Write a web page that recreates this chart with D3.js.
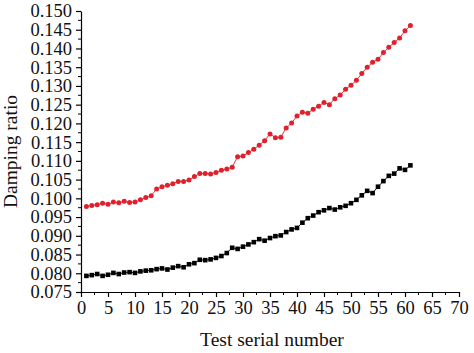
<!DOCTYPE html>
<html><head><meta charset="utf-8">
<script src="https://cdn.jsdelivr.net/npm/d3@7"></script>
<style>body{margin:0;background:#fff}svg{display:block}</style>
</head><body>
<script>
const testNumbers = d3.range(1, 62);
const redSeries = [0.0978,0.0981,0.0983,0.0987,0.0984,0.0990,0.0988,0.0992,0.0989,0.0990,
0.0996,0.1002,0.1007,0.1025,0.1031,0.1035,0.1039,0.1045,0.1045,0.1049,
0.1058,0.1066,0.1066,0.1065,0.1069,0.1075,0.1078,0.1083,0.1111,0.1113,
0.1122,0.1131,0.1142,0.1154,0.1172,0.1162,0.1163,0.1188,0.1201,0.1220,
0.1230,0.1227,0.1238,0.1246,0.1256,0.1250,0.1266,0.1276,0.1291,0.1302,
0.1315,0.1333,0.1350,0.1363,0.1371,0.1389,0.1403,0.1416,0.1428,0.1447,0.1461];
const blackSeries = [0.0793,0.0795,0.0798,0.0793,0.0796,0.0801,0.0798,0.0802,0.0803,0.0801,
0.0805,0.0807,0.0808,0.0811,0.0813,0.0810,0.0815,0.0819,0.0816,0.0824,
0.0827,0.0836,0.0835,0.0837,0.0841,0.0846,0.0854,0.0868,0.0865,0.0871,
0.0877,0.0883,0.0891,0.0887,0.0894,0.0899,0.0901,0.0910,0.0917,0.0921,
0.0935,0.0947,0.0954,0.0963,0.0968,0.0974,0.0970,0.0976,0.0980,0.0987,
0.0996,0.1008,0.1020,0.1014,0.1031,0.1046,0.1060,0.1066,0.1080,0.1076,0.1088];
const xTicks = d3.range(0, 71, 5);
const yTicks = d3.range(0, 16).map(i => +(0.075 + i*0.005).toFixed(3));
const xLabel = "Test serial number";
const yLabel = "Damping ratio";

const W = 474, H = 353;
const m = {left: 81, right: 15, top: 11, bottom: 61};
const svg = d3.select("body").append("svg").attr("width", W).attr("height", H);
const x = d3.scaleLinear().domain([0, 70]).range([m.left, W - m.right]);
const y = d3.scaleLinear().domain([0.075, 0.150]).range([H - m.bottom, m.top]);
const font = "'Liberation Serif', serif";

// minor ticks
const xMinor = d3.range(2.5, 70, 5);
const yMinor = d3.range(0, 15).map(i => 0.0775 + i*0.005);
svg.append("g").selectAll("line").data(xMinor).join("line")
  .attr("x1", d => x(d)).attr("x2", d => x(d))
  .attr("y1", y(0.075)).attr("y2", y(0.075) + 3)
  .attr("stroke", "#000").attr("stroke-width", 1);
svg.append("g").selectAll("line").data(yMinor).join("line")
  .attr("y1", d => y(d)).attr("y2", d => y(d))
  .attr("x1", x(0)).attr("x2", x(0) - 3)
  .attr("stroke", "#000").attr("stroke-width", 1);

const xAxis = svg.append("g").attr("transform", `translate(0,${y(0.075)})`)
  .call(d3.axisBottom(x).tickValues(xTicks).tickSize(5).tickSizeOuter(0).tickPadding(4).tickFormat(d3.format("d")));
const yAxis = svg.append("g").attr("transform", `translate(${x(0)},0)`)
  .call(d3.axisLeft(y).tickValues(yTicks).tickSize(5).tickSizeOuter(0).tickPadding(4).tickFormat(d3.format(".3f")));
[xAxis, yAxis].forEach(g => {
  g.selectAll("text").attr("font-family", font).attr("font-size", 18.5).attr("fill", "#111");
  g.selectAll("path,line").attr("stroke", "#000").attr("stroke-width", 1.2);
});

svg.append("text").attr("x", 272).attr("y", 346)
  .attr("text-anchor", "middle").attr("font-family", font).attr("font-size", 19.5).attr("fill", "#111").text(xLabel);
svg.append("text").attr("transform", `translate(17,${(y(0.075) + y(0.15)) / 2}) rotate(-90)`)
  .attr("text-anchor", "middle").attr("font-family", font).attr("font-size", 19.5).attr("fill", "#111").text(yLabel);

const line = d3.line().x((d, i) => x(testNumbers[i])).y(d => y(d));
const red = "#e0202c";
svg.append("path").datum(redSeries).attr("d", line).attr("fill", "none").attr("stroke", red).attr("stroke-width", 0.9);
svg.append("path").datum(blackSeries).attr("d", line).attr("fill", "none").attr("stroke", "#000").attr("stroke-width", 0.9);
svg.append("g").selectAll("circle").data(redSeries).join("circle")
  .attr("cx", (d, i) => x(testNumbers[i])).attr("cy", d => y(d)).attr("r", 2.5).attr("fill", red);
svg.append("g").selectAll("rect").data(blackSeries).join("rect")
  .attr("x", (d, i) => x(testNumbers[i]) - 2.3).attr("y", d => y(d) - 2.3)
  .attr("width", 4.6).attr("height", 4.6).attr("fill", "#000");
</script>
</body></html>
